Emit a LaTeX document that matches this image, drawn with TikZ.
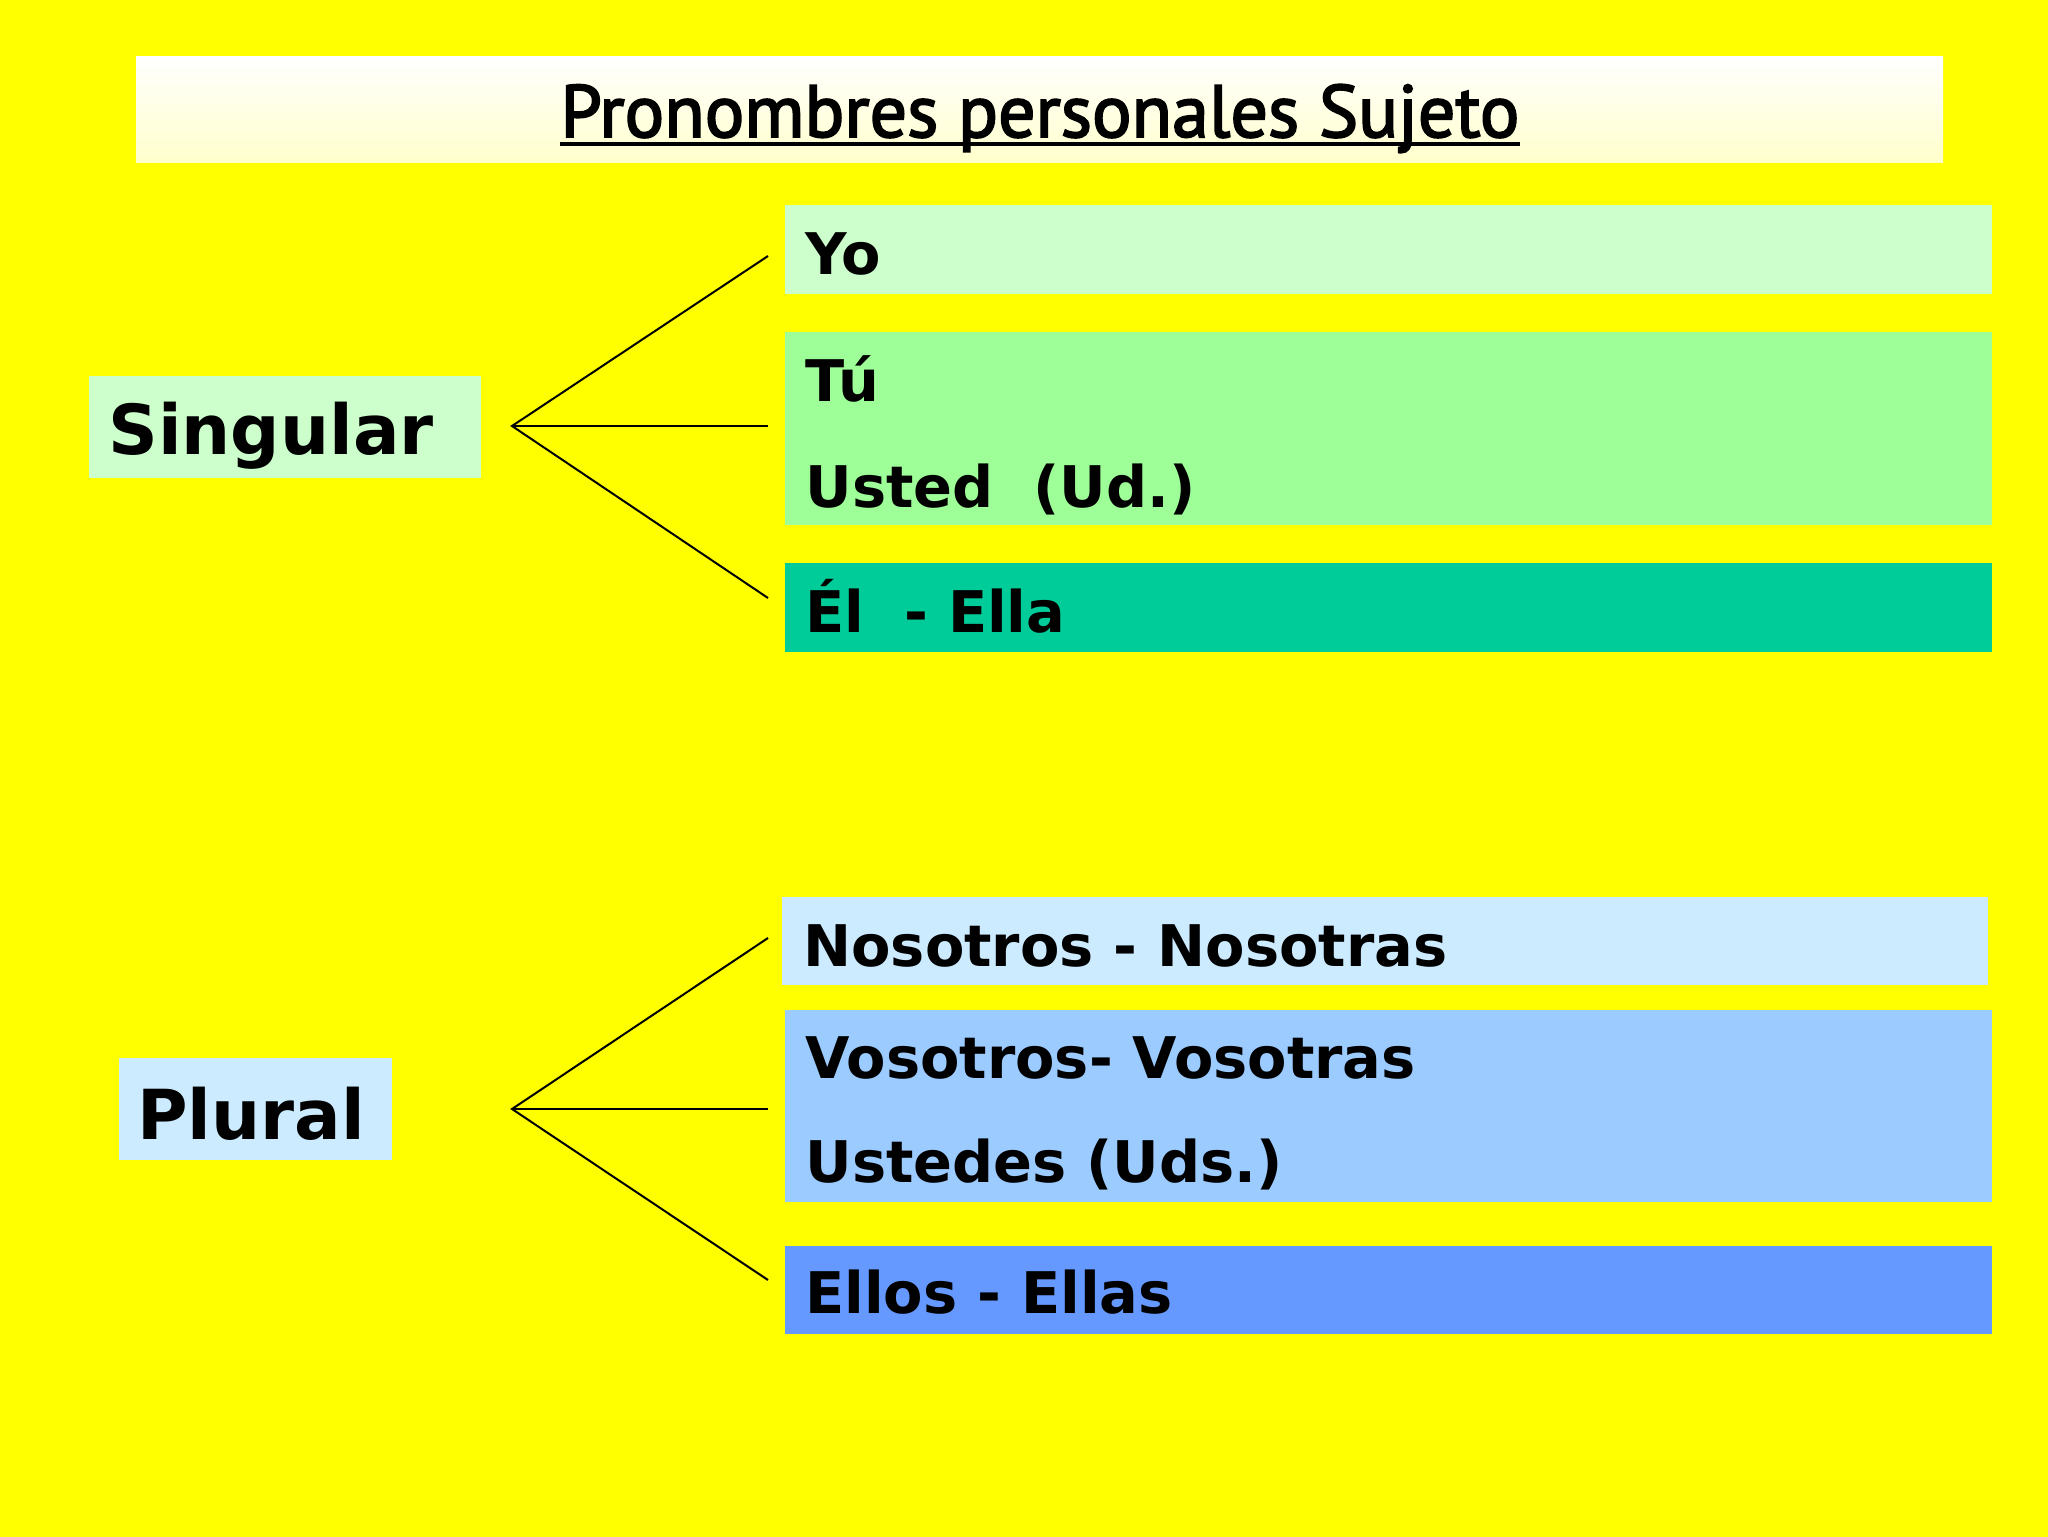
\documentclass[tikz,border=0pt]{standalone}
\usepackage{fontspec}
\setmainfont{DejaVu Sans}
\newfontfamily\titlefont{PT Sans}[FakeBold=2.5]
\usetikzlibrary{fit}
\definecolor{bg}{HTML}{FFFF00}
\definecolor{yocol}{HTML}{CCFFCC}
\definecolor{tucol}{HTML}{9EFF98}
\definecolor{elcol}{HTML}{00CC99}
\definecolor{nocol}{HTML}{CCEBFF}
\definecolor{vocol}{HTML}{9CCBFF}
\definecolor{ellcol}{HTML}{6699FF}
\definecolor{titlebot}{HTML}{FFFFCC}
\tikzset{
  boxrect/.style={inner sep=0pt, outer sep=0pt, draw=none},
  itemtxt/.style={anchor=base west, inner sep=0pt, font=\bfseries\fontsize{28.7}{35}\selectfont},
  bigtxt/.style={anchor=base west, inner sep=0pt, font=\bfseries\fontsize{34.5}{42}\selectfont},
  fanline/.style={line width=1pt, black}
}
\begin{document}
\begin{tikzpicture}[x=0.5pt,y=-0.5pt]
\useasboundingbox (0,0) rectangle (2048,1536);
\fill[bg, overlay] (-10,-10) rectangle (2058,1546);

% title
\node[boxrect, top color=white, bottom color=titlebot, fit={(136,57)(1943,162)}] (titlebox) {};
\node[anchor=base, inner sep=0pt, font=\titlefont\fontsize{37}{44}\selectfont] (title) at (1040,137) {Pronombres personales Sujeto};
\draw[line width=1.6pt] ([yshift=-3.5pt]title.base west) -- ([yshift=-3.5pt]title.base east);

% singular side
\node[boxrect, fill=yocol, fit={(89,376)(481,478)}] (sgbox) {};
\node[bigtxt] (sgtxt) at (108,454) {Singular};

\node[boxrect, fill=yocol, fit={(785,205)(1992,294)}] (yobox) {};
\node[boxrect, fill=tucol, fit={(785,332)(1992,525)}] (tubox) {};
\node[boxrect, fill=elcol, fit={(785,563)(1992,652)}] (elbox) {};
\node[itemtxt] (yotxt) at (805,274) {Yo};
\node[itemtxt] (tutxt) at (805,401) {Tú};
\node[itemtxt] (ustxt) at (805,507) {Usted\ \ (Ud.)};
\node[itemtxt] (eltxt) at (805,632) {Él\ \ - Ella};

\coordinate (sgfan) at (512,426);
\coordinate (sgend1) at (768,256);
\coordinate (sgend2) at (768,426);
\coordinate (sgend3) at (768,598);
\draw[fanline] (sgend1) -- (sgfan) -- (sgend3);
\draw[fanline] (sgfan) -- (sgend2);

% plural side
\node[boxrect, fill=nocol, fit={(119,1058)(392,1160)}] (plbox) {};
\node[bigtxt] (pltxt) at (137,1139) {Plural};

\node[boxrect, fill=nocol, fit={(782,897)(1988,985)}] (nobox) {};
\node[boxrect, fill=vocol, fit={(785,1010)(1992,1202)}] (vobox) {};
\node[boxrect, fill=ellcol, fit={(785,1246)(1992,1334)}] (ellbox) {};
\node[itemtxt] (notxt) at (803,966) {Nosotros - Nosotras};
\node[itemtxt] (votxt) at (805,1078) {Vosotros- Vosotras};
\node[itemtxt] (uds) at (805,1182) {Ustedes (Uds.)};
\node[itemtxt] (elltxt) at (805,1313) {Ellos - Ellas};

\coordinate (plfan) at (512,1109);
\coordinate (plend1) at (768,938);
\coordinate (plend2) at (768,1109);
\coordinate (plend3) at (768,1280);
\draw[fanline] (plend1) -- (plfan) -- (plend3);
\draw[fanline] (plfan) -- (plend2);
\end{tikzpicture}
\end{document}
